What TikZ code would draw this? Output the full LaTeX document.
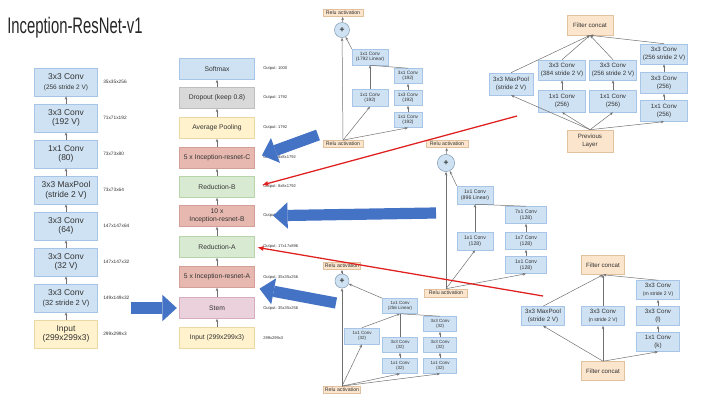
\documentclass[tikz,border=0pt]{standalone}
\usepackage{fontspec}
\setmainfont{Liberation Sans}
\usepackage{xcolor}
\usepackage{graphicx}
\usetikzlibrary{arrows.meta,positioning,calc}

\definecolor{convfill}{HTML}{CFE2F3}
\definecolor{convline}{HTML}{A7C5E6}
\definecolor{yelfill}{HTML}{FFF2CC}
\definecolor{yelline}{HTML}{EAD9A4}
\definecolor{greyfill}{HTML}{D9D9D9}
\definecolor{greyline}{HTML}{BEBEBE}
\definecolor{resfill}{HTML}{E6B8AF}
\definecolor{resline}{HTML}{D39F96}
\definecolor{grnfill}{HTML}{D9EAD3}
\definecolor{grnline}{HTML}{B7D4AB}
\definecolor{stemfill}{HTML}{EAD1DC}
\definecolor{stemline}{HTML}{D6ADC0}
\definecolor{tanfill}{HTML}{FCE5CD}
\definecolor{tanline}{HTML}{E2C29E}
\definecolor{bigblue}{HTML}{4472C4}
\definecolor{hintred}{HTML}{E0201F}
\definecolor{wire}{HTML}{707070}

\begin{document}
\begin{tikzpicture}[
    x=0.025cm, y=-0.025cm,
    >={Stealth[length=2.4pt,width=1.8pt]},
    every node/.style={inner sep=0pt, text=black!80},
    wire/.style={draw=wire, line width=0.35pt},
    convbox/.style={draw=convline, fill=convfill, align=center},
    stembox/.style={convbox, minimum width=1.575cm, minimum height=0.7cm, font=\fontsize{6}{7}\selectfont},
    sizelabel/.style={anchor=west, font=\fontsize{3.4}{4}\selectfont},
    layerbox/.style={minimum width=1.875cm, minimum height=0.525cm, align=center, font=\fontsize{4.8}{5.6}\selectfont},
    bluelayer/.style={layerbox, draw=convline, fill=convfill},
    yellayer/.style={layerbox, draw=yelline, fill=yelfill},
    greylayer/.style={layerbox, draw=greyline, fill=greyfill},
    reslayer/.style={layerbox, draw=resline, fill=resfill},
    grnlayer/.style={layerbox, draw=grnline, fill=grnfill},
    stemlayer/.style={layerbox, draw=stemline, fill=stemfill},
    outlabel/.style={anchor=west, font=\fontsize{2.9}{3.4}\selectfont},
    relubox/.style={draw=tanline, fill=tanfill, minimum height=0.18cm, font=\fontsize{3.7}{4}\selectfont},
    plusnode/.style={circle, draw=convline!80!black, fill=convfill, font=\fontsize{6}{6}\selectfont\bfseries},
    cbox/.style={convbox, font=\fontsize{3.4}{4}\selectfont},
    bbox/.style={convbox, font=\fontsize{3.7}{4.4}\selectfont},
    abox/.style={convbox, minimum height=0.375cm, font=\fontsize{3.2}{3.8}\selectfont},
    redbox/.style={convbox, font=\fontsize{4.4}{5.2}\selectfont},
    concatbox/.style={draw=tanline, fill=tanfill, align=center, font=\fontsize{4.4}{5.2}\selectfont},
    bigarrow/.style={draw=bigblue, line width=0.28cm, -{Triangle[width=0.66cm,length=0.36cm,line width=0pt]}},
    hintarrow/.style={draw=hintred, line width=0.9pt, -{Latex[length=4.5pt,width=3.6pt]}}
]
\path[use as bounding box, fill=white] (0,0) rectangle (720,405);

\node[anchor=west, text=black!85] (title) at (7,28) {\scalebox{0.66}[1]{\fontsize{16}{16}\selectfont Inception-ResNet-v1}};

\node[stembox, draw=yelline, fill=yelfill] (inp) at (66,334) {Input\\(299x299x3)};
\node[stembox] (c32s) at (66,298) {3x3 Conv\\{\fontsize{5.3}{6}\selectfont (32 stride 2 V)}};
\node[stembox] (c32v) at (66,262) {3x3 Conv\\(32 V)};
\node[stembox] (c64) at (66,226) {3x3 Conv\\(64)};
\node[stembox] (mp1) at (66,190) {3x3 MaxPool\\(stride 2 V)};
\node[stembox] (c80) at (66,154) {1x1 Conv\\(80)};
\node[stembox] (c192) at (66,118) {3x3 Conv\\(192 V)};
\node[stembox] (c256) at (66,82) {3x3 Conv\\{\fontsize{4.6}{5.4}\selectfont (256 stride 2 V)}};

\node[sizelabel] (s1) at (103,334) {299x299x3};
\node[sizelabel] (s2) at (103,298) {149x149x32};
\node[sizelabel] (s3) at (103,262) {147x147x32};
\node[sizelabel] (s4) at (103,226) {147x147x64};
\node[sizelabel] (s5) at (103,190) {73x73x64};
\node[sizelabel] (s6) at (103,154) {73x73x80};
\node[sizelabel] (s7) at (103,118) {71x71x192};
\node[sizelabel] (s8) at (103,82) {35x35x256};

\draw[wire,->] (inp) -- (c32s);
\draw[wire,->] (c32s) -- (c32v);
\draw[wire,->] (c32v) -- (c64);
\draw[wire,->] (c64) -- (mp1);
\draw[wire,->] (mp1) -- (c80);
\draw[wire,->] (c80) -- (c192);
\draw[wire,->] (c192) -- (c256);

\node[yellayer] (minp) at (217,338) {Input (299x299x3)};
\node[stemlayer] (stem) at (217,308) {Stem};
\node[reslayer] (resA) at (217,277) {5 x Inception-resnet-A};
\node[grnlayer] (redA) at (217,247) {Reduction-A};
\node[reslayer] (resB) at (217,216) {10 x\\Inception-resnet-B};
\node[grnlayer] (redB) at (217,187) {Reduction-B};
\node[reslayer] (resC) at (217,158) {5 x Inception-resnet-C};
\node[yellayer] (avg) at (217,128) {Average Pooling};
\node[greylayer] (drop) at (217,98) {Dropout (keep 0.8)};
\node[bluelayer] (soft) at (217,69) {Softmax};

\node[outlabel] (o1) at (263,338) {299x299x3};
\node[outlabel] (o2) at (263,308) {Output: 35x35x256};
\node[outlabel] (o3) at (263,277) {Output: 35x35x256};
\node[outlabel] (o4) at (263,247) {Output: 17x17x896};
\node[outlabel] (o5) at (263,216) {Output: 17x17x896};
\node[outlabel] (o6) at (263,187) {Output: 8x8x1792};
\node[outlabel] (o7) at (263,158) {Output: 8x8x1792};
\node[outlabel] (o8) at (263,128) {Output: 1792};
\node[outlabel] (o9) at (263,98) {Output: 1792};
\node[outlabel] (o10) at (263,69) {Output: 1000};

\draw[wire,->] (minp) -- (stem);
\draw[wire,->] (stem) -- (resA);
\draw[wire,->] (resA) -- (redA);
\draw[wire,->] (redA) -- (resB);
\draw[wire,->] (resB) -- (redB);
\draw[wire,->] (redB) -- (resC);
\draw[wire,->] (resC) -- (avg);
\draw[wire,->] (avg) -- (drop);
\draw[wire,->] (drop) -- (soft);

\node[relubox, minimum width=1.0cm] (cTop) at (343,13) {Relu activation};
\node[plusnode, minimum size=0.375cm] (cPlus) at (342,30) {+};
\node[cbox, minimum width=0.9cm, minimum height=0.4cm] (cLin) at (370,57) {1x1 Conv\\(1792 Linear)};
\node[cbox, minimum width=0.9cm, minimum height=0.42cm] (cL1) at (370,98) {1x1 Conv\\(192)};
\node[cbox, minimum width=0.7cm, minimum height=0.375cm] (cR3) at (408,76) {3x1 Conv\\(192)};
\node[cbox, minimum width=0.7cm, minimum height=0.375cm] (cR2) at (408,98) {1x3 Conv\\(192)};
\node[cbox, minimum width=0.7cm, minimum height=0.375cm] (cR1) at (408,120) {1x1 Conv\\(192)};
\node[relubox, minimum width=1.0cm] (cBot) at (343,144) {Relu activation};

\draw[wire,->] (cBot.north) -- (cPlus);
\draw[wire,->] (cBot.north) -- (cL1.south);
\draw[wire,->] (cBot.north) -- (cR1.south);
\draw[wire,->] (cL1) -- (cLin);
\draw[wire,->] (cR1) -- (cR2);
\draw[wire,->] (cR2) -- (cR3);
\draw[wire] (cR3.north) -- (cLin.south);
\draw[wire,->] (cLin.north west) -- (cPlus);
\draw[wire,->] (cPlus) -- (cTop);

\node[concatbox, minimum width=1.15cm, minimum height=0.5cm] (rbCat) at (590,25) {Filter concat};
\node[redbox, minimum width=1.1cm, minimum height=0.55cm] (rbPool) at (511,84) {3x3 MaxPool\\(stride 2 V)};
\node[redbox, minimum width=1.175cm, minimum height=0.5cm] (rbA2) at (562,70) {3x3 Conv\\(384 stride 2 V)};
\node[redbox, minimum width=1.175cm, minimum height=0.55cm] (rbA1) at (562,101) {1x1 Conv\\(256)};
\node[redbox, minimum width=1.175cm, minimum height=0.5cm] (rbB2) at (613,70) {3x3 Conv\\(256 stride 2 V)};
\node[redbox, minimum width=1.175cm, minimum height=0.55cm] (rbB1) at (613,101) {1x1 Conv\\(256)};
\node[redbox, minimum width=1.175cm, minimum height=0.5cm] (rbC3) at (664,54) {3x3 Conv\\(256 stride 2 V)};
\node[redbox, minimum width=1.175cm, minimum height=0.52cm] (rbC2) at (664,83) {3x3 Conv\\(256)};
\node[redbox, minimum width=1.175cm, minimum height=0.52cm] (rbC1) at (664,111) {1x1 Conv\\(256)};
\node[concatbox, minimum width=1.15cm, minimum height=0.55cm] (rbPrev) at (590,141) {Previous\\Layer};

\draw[wire,->] (rbPrev.north) -- (rbPool.south);
\draw[wire,->] (rbPrev.north) -- (rbA1.south);
\draw[wire,->] (rbPrev.north) -- (rbB1.south);
\draw[wire,->] (rbPrev.north) -- (rbC1.south);
\draw[wire,->] (rbA1) -- (rbA2);
\draw[wire,->] (rbB1) -- (rbB2);
\draw[wire,->] (rbC1) -- (rbC2);
\draw[wire,->] (rbC2) -- (rbC3);
\draw[wire,->] (rbPool.north) -- (rbCat.south);
\draw[wire,->] (rbA2.north) -- (rbCat.south);
\draw[wire,->] (rbB2.north) -- (rbCat.south);
\draw[wire,->] (rbC3.north) -- (rbCat.south);

\node[relubox, minimum width=1.05cm] (bTop) at (447,144) {Relu activation};
\node[plusnode, minimum size=0.43cm] (bPlus) at (446,163) {+};
\node[bbox, minimum width=0.9cm, minimum height=0.45cm] (bLin) at (475,195) {1x1 Conv\\(896 Linear)};
\node[bbox, minimum width=0.9cm, minimum height=0.45cm] (bL1) at (475,241) {1x1 Conv\\(128)};
\node[bbox, minimum width=1.025cm, minimum height=0.425cm] (bR3) at (526,215) {7x1 Conv\\(128)};
\node[bbox, minimum width=1.025cm, minimum height=0.425cm] (bR2) at (526,241) {1x7 Conv\\(128)};
\node[bbox, minimum width=1.025cm, minimum height=0.425cm] (bR1) at (526,265) {1x1 Conv\\(128)};
\node[relubox, minimum width=1.075cm, minimum height=0.2cm] (bBot) at (446,293) {Relu activation};

\draw[wire,->] (bBot.north) -- (bPlus);
\draw[wire,->] (bBot.north) -- (bL1.south);
\draw[wire,->] (bBot.north) -- (bR1.south);
\draw[wire,->] (bL1) -- (bLin);
\draw[wire,->] (bR1) -- (bR2);
\draw[wire,->] (bR2) -- (bR3);
\draw[wire] (bR3.north) -- (bLin.south);
\draw[wire,->] (bLin.north west) -- (bPlus);
\draw[wire,->] (bPlus) -- (bTop);

\node[concatbox, minimum width=1.075cm, minimum height=0.475cm] (raCat) at (603,265) {Filter concat};
\node[redbox, minimum width=1.075cm, minimum height=0.475cm] (raPool) at (543,316) {3x3 MaxPool\\(stride 2 V)};
\node[redbox, minimum width=1.075cm, minimum height=0.475cm] (raN) at (603,316) {3x3 Conv\\{\fontsize{3.6}{4.4}\selectfont (n stride 2 V)}};
\node[redbox, minimum width=1.075cm, minimum height=0.475cm] (raM) at (658,290) {3x3 Conv\\{\fontsize{3.6}{4.4}\selectfont (m stride 2 V)}};
\node[redbox, minimum width=1.075cm, minimum height=0.475cm] (raL) at (658,316) {3x3 Conv\\(l)};
\node[redbox, minimum width=1.075cm, minimum height=0.475cm] (raK) at (658,342) {1x1 Conv\\(k)};
\node[concatbox, minimum width=1.075cm, minimum height=0.475cm] (raPrev) at (603,371) {Filter concat};

\draw[wire,->] (raPrev.north) -- (raPool.south);
\draw[wire,->] (raPrev.north) -- (raN.south);
\draw[wire,->] (raPrev.north) -- (raK.south);
\draw[wire,->] (raK) -- (raL);
\draw[wire,->] (raL) -- (raM);
\draw[wire,->] (raPool.north) -- (raCat.south);
\draw[wire,->] (raN.north) -- (raCat.south);
\draw[wire,->] (raM.north) -- (raCat.south);

\node[relubox, minimum width=0.925cm] (aTop) at (342,266) {Relu activation};
\node[plusnode, minimum size=0.35cm] (aPlus) at (342,281) {+};
\node[abox, minimum width=0.875cm] (aLin) at (400,306) {1x1 Conv\\(256 Linear)};
\node[abox, minimum width=0.875cm, minimum height=0.4cm] (aL1) at (362,336) {1x1 Conv\\(32)};
\node[abox, minimum width=0.875cm] (aM2) at (400,345) {3x3 Conv\\(32)};
\node[abox, minimum width=0.875cm] (aM1) at (400,366) {1x1 Conv\\(32)};
\node[abox, minimum width=0.825cm] (aR3) at (440,324) {3x3 Conv\\(32)};
\node[abox, minimum width=0.825cm] (aR2) at (440,345) {3x3 Conv\\(32)};
\node[abox, minimum width=0.825cm] (aR1) at (440,366) {1x1 Conv\\(32)};
\node[relubox, minimum width=0.925cm] (aBot) at (342,390) {Relu activation};

\draw[wire,->] (aBot.north) -- (aPlus);
\draw[wire,->] (aBot.north) -- (aL1.south);
\draw[wire,->] (aBot.north) -- (aM1.south);
\draw[wire,->] (aBot.north) -- (aR1.south);
\draw[wire,->] (aL1.north) -- (aLin.south);
\draw[wire,->] (aM1) -- (aM2);
\draw[wire] (aM2.north) -- (aLin.south);
\draw[wire,->] (aR1) -- (aR2);
\draw[wire,->] (aR2) -- (aR3);
\draw[wire] (aR3.north) -- (aLin.south);
\draw[wire,->] (aLin.north west) -- (aPlus);
\draw[wire,->] (aPlus) -- (aTop);

\coordinate (tailStem) at (131,308);
\coordinate (tailC) at (318,135);
\coordinate (tailB) at (436,213);
\coordinate (tailA) at (336,303);
\coordinate (fromRB) at (517,116);
\coordinate (fromRA) at (543,296);

\draw[bigarrow, shorten >=0.06cm] (tailStem) -- (stem.west);
\draw[bigarrow, shorten >=0.19cm] (tailC) -- (resC.east);
\draw[bigarrow, shorten >=0.46cm] (tailB) -- (resB.east);
\draw[bigarrow, shorten >=0.12cm] (tailA) -- (resA.south east);
\draw[hintarrow, shorten >=0.18cm] (fromRB) -- (redB.east);
\draw[hintarrow, shorten >=0.06cm] (fromRA) -- (redA.east);
\end{tikzpicture}
\end{document}
